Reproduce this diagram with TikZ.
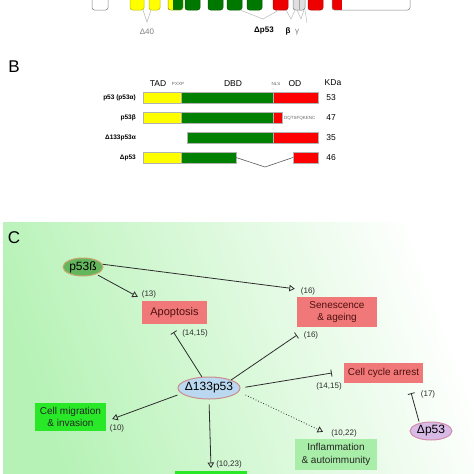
\documentclass[tikz,border=0pt]{standalone}
\usepackage{fontspec}
\setmainfont{Liberation Sans}
\usepackage{tikz}
\usetikzlibrary{arrows.meta, positioning, calc, shapes.geometric}
\definecolor{exonyellow}{RGB}{255, 255, 0}
\definecolor{exongreen}{RGB}{0, 120, 0}
\definecolor{exonred}{RGB}{238, 0, 0}
\definecolor{bargreen}{RGB}{0, 128, 0}
\definecolor{barred}{RGB}{255, 0, 0}
\definecolor{panelgreen}{RGB}{182, 242, 182}
\definecolor{salmonbox}{RGB}{240, 120, 120}
\definecolor{migrgreen}{RGB}{40, 232, 40}
\definecolor{inflgreen}{RGB}{168, 238, 168}
\definecolor{p53bfill}{RGB}{100, 182, 92}
\definecolor{p53bline}{RGB}{200, 165, 110}
\definecolor{dfill}{RGB}{186, 216, 240}
\definecolor{dline}{RGB}{205, 140, 140}
\definecolor{dpfill}{RGB}{215, 186, 230}
\definecolor{dpline}{RGB}{212, 140, 172}
\definecolor{linegrey}{RGB}{45, 45, 45}
\definecolor{textred}{RGB}{80, 15, 15}

\begin{document}
\begin{tikzpicture}[x=1pt, y=-1pt,
    exon/.style={rounded corners=2.5pt, line width=0.5pt},
    bar/.style={draw=gray!60, line width=0.3pt},
    head/.style={font=\fontsize{8.5}{8.5}\selectfont, inner sep=0pt},
    tiny/.style={font=\fontsize{4.5}{4.5}\selectfont, text=gray!80!black, inner sep=0pt},
    rowname/.style={font=\bfseries\fontsize{6.5}{6.5}\selectfont, anchor=east, inner sep=0pt},
    isoform/.style={ellipse, line width=1pt, inner xsep=-3pt, inner ysep=0pt,
                    font=\fontsize{12}{12}\selectfont},
    effect/.style={rectangle, inner sep=2pt, align=center, text=textred,
                   font=\fontsize{10}{12.5}\selectfont},
    act/.style={draw=linegrey, line width=0.8pt, -{Triangle[open, length=5.5pt, width=6.5pt]}},
    inh/.style={draw=linegrey, line width=0.8pt, -{Bar[width=7pt, line width=0.8pt]}},
    refnum/.style={font=\fontsize{8}{8}\selectfont, text=linegrey, inner sep=0pt}
]
\useasboundingbox (0,0) rectangle (474,474);
\clip (0,0) rectangle (474,474);

% --- A: exon map (cut at the top) ---
\draw[exon, draw=gray, fill=white] (92,-8) rectangle (108,10);
\foreach \xa/\xb/\col in {130/144/exonyellow, 149/160/exonyellow, 185/200/exongreen,
                          208/223/exongreen, 227/242/exongreen, 247/262/exongreen,
                          273/288/exonred, 308/323/exonred}
    \draw[exon, fill=\col, draw=\col!75!black] (\xa,-8) rectangle (\xb,10);
\begin{scope}
    \clip[rounded corners=2.5pt] (168,-8) rectangle (183,10);
    \fill[exongreen] (168,-8) rectangle (183,10);
    \fill[exonyellow] (168,-8) rectangle (173,10);
\end{scope}
\draw[exon, draw=exonyellow!60!black] (168,-8) rectangle (183,10);
\draw[exon, draw=gray, fill=gray!25] (293,-8) rectangle (305,10);
\draw[gray!70, line width=0.4pt] (299,-8) -- (299,10);
\begin{scope}
    \clip[rounded corners=2.5pt] (332,-8) rectangle (410,10);
    \fill[white] (332,-8) rectangle (410,10);
    \fill[exonred] (332,-8) rectangle (342,10);
\end{scope}
\draw[exon, draw=gray] (332,-8) rectangle (410,10);

% splice lines
\draw[gray!55, line width=0.5pt] (143,10) -- (147,22) -- (151,10);
\draw[gray!55, line width=0.5pt] (240,10) -- (263,19) -- (279,10);
\draw[gray!55, line width=0.5pt] (286,10) -- (291,19) -- (295,10);
\draw[gray!55, line width=0.5pt] (297,10) -- (301,19) -- (304,10);
\draw[gray!55, line width=0.5pt] (305,10) -- (307,23);

\node[font=\fontsize{8}{8}\selectfont, text=gray] (d40) at (147,32) {Δ40};
\node[font=\bfseries\fontsize{8}{8}\selectfont] (dp53a) at (264,31) {Δp53};
\node[font=\bfseries\fontsize{8}{8}\selectfont] (beta) at (288,31) {β};
\node[font=\fontsize{8}{8}\selectfont, text=gray] (gamma) at (297,32) {γ};

% --- B: isoform bars ---
\node[font=\fontsize{17}{17}\selectfont] (labB) at (14,67) {B};
\node[head] (tad) at (158,84) {TAD};
\node[tiny] (pxxp) at (178,84) {PXXP};
\node[head] (dbd) at (233,84) {DBD};
\node[tiny] (nls) at (276,84) {NLS};
\node[head] (od) at (295,84) {OD};
\node[head] (kda) at (333,83) {KDa};

% p53 alpha
\fill[bar, fill=exonyellow] (143,92) rectangle (181,103);
\fill[bar, fill=bargreen] (181,92) rectangle (273,103);
\fill[bar, fill=barred] (273,92) rectangle (318,103);
% p53 beta
\fill[bar, fill=exonyellow] (143,112) rectangle (181,123);
\fill[bar, fill=bargreen] (181,112) rectangle (273,123);
\fill[bar, fill=barred] (273,112) rectangle (282,123);
% delta133
\fill[bar, fill=bargreen] (187,132) rectangle (273,143);
\fill[bar, fill=barred] (273,132) rectangle (318,143);
% delta p53
\fill[bar, fill=exonyellow] (143,152) rectangle (181,163);
\fill[bar, fill=bargreen] (181,152) rectangle (236,163);
\fill[bar, fill=barred] (293,152) rectangle (318,163);
\draw[gray!70!black, line width=0.6pt] (236,157.5) -- (265,167) -- (293,157.5);

\foreach \y/\name in {97.5/{p53 (p53α)}, 117.5/{p53β}, 137.5/{Δ133p53α}, 157.5/{Δp53}}
    \node[rowname] at (136,\y) {\name};
\node[tiny, anchor=west] (dqts) at (284,118) {DQTSFQKENC};
\foreach \y/\kd in {97.5/53, 117.5/47, 137.5/35, 157.5/46}
    \node[head] at (331,\y) {\kd};

% --- C: interaction scheme ---
\shade[left color=panelgreen, middle color=panelgreen!60!white, right color=white,
       shading angle=110] (3,222) rectangle (474,474);
\node[font=\fontsize{17}{17}\selectfont] (labC) at (14,238) {C};

\node[isoform, fill=p53bfill, draw=p53bline, minimum width=40, minimum height=18] (p53b) at (83,267) {p53ß};
\node[isoform, fill=dfill, draw=dline, minimum width=62, minimum height=22] (d133) at (209,388) {Δ133p53};
\node[isoform, fill=dpfill, draw=dpline, minimum width=42, minimum height=18] (dp53) at (431,431) {Δp53};

\node[effect, fill=salmonbox, minimum width=65, minimum height=23,
      font=\fontsize{11}{11}\selectfont] (apop) at (174.5,312.5) {Apoptosis};
\node[effect, fill=salmonbox, minimum width=80, minimum height=30] (senes) at (337,312) {Senescence\\\& ageing};
\node[effect, fill=salmonbox, minimum width=79, minimum height=20] (cca) at (383.5,373) {Cell cycle arrest};
\node[effect, fill=migrgreen, text=black!85, minimum width=71, minimum height=28] (migr) at (70.5,417) {Cell migration\\\& invasion};
\node[effect, fill=inflgreen, text=black!85, minimum width=82, minimum height=31] (infl) at (336,454.5) {Inflammation\\\& autoimmunity};
\node[effect, fill=migrgreen, minimum width=72, minimum height=22, anchor=north] (bot) at (211,471) {};

% connectors
\draw[act] (p53b.8) -- ([shift={(-2,-8)}]senes.north west);
\draw[act, shorten <=2pt] (p53b) -- ([shift={(-4,-4)}]apop.north west);
\draw[inh] (d133) -- ([shift={(-1,8)}]apop.south);
\draw[inh] (d133.north east) -- ([shift={(0,8)}]senes.south west);
\draw[inh, shorten <=5pt] (d133.east) -- ([xshift=-12]cca.west);
\draw[inh] ([xshift=-12]dp53.north) -- ([shift={(-12,10)}]cca.south east);
\draw[act, dotted] ([shift={(5,7)}]d133.east) -- ([shift={(-13,-7)}]infl.north);
\draw[act] ([shift={(0,7)}]d133.west) -- ([shift={(6,2)}]migr.east);
\draw[act, shorten <=5pt] (d133.south) -- ([yshift=3]bot.north);

% reference numbers
\node[refnum] (r16a) at (308,291) {(16)};
\node[refnum] (r13) at (149,294) {(13)};
\node[refnum] (r1415a) at (195,333) {(14,15)};
\node[refnum] (r16b) at (311,335) {(16)};
\node[refnum] (r1415b) at (329,386) {(14,15)};
\node[refnum] (r17) at (428,394) {(17)};
\node[refnum] (r1022) at (344,433) {(10,22)};
\node[refnum] (r10) at (117,428) {(10)};
\node[refnum] (r1023) at (229,464) {(10,23)};
\end{tikzpicture}
\end{document}
